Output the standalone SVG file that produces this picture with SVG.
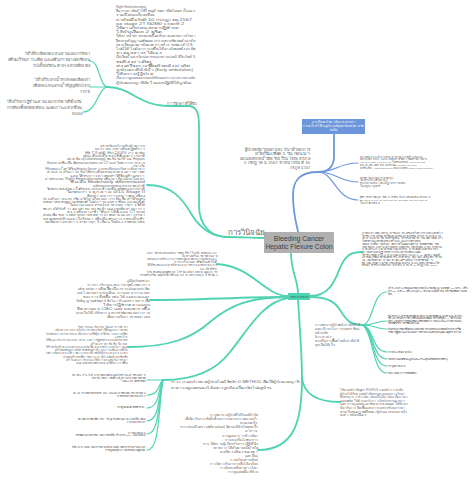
<svg xmlns="http://www.w3.org/2000/svg" width="474" height="483" viewBox="0 0 474 483">
<style>
text{font-family:"Liberation Sans","Noto Sans",sans-serif;fill:#6a6a6a}
.e{text-anchor:end}
.m{text-anchor:middle}
.tl{fill:none;stroke:#4fd3b2;stroke-linecap:round}
.bl{fill:none;stroke:#6f97dc;stroke-linecap:round}
.w1{stroke-width:1.2}
.w2{stroke-width:1.8}
</style>
<rect width="474" height="483" fill="#ffffff"/>
<g id="connectors">
<path class="tl w2" d="M265,238 C250,238 240,237 228,237"/>
<path class="tl w2" d="M228,237 C210,237 199,225 199,205 L199,125 C199,112 196,106 188,106 L167,106 C140,106 130,87 108,87"/>
<path class="tl w1" d="M108,87 C99,87 100,61 90,61"/>
<path class="tl w1" d="M108,87 L90,87"/>
<path class="tl w1" d="M108,87 C98,87 97,112 83,112"/>
<path class="tl w2" d="M228,237 C212,237 200,228 192,215 C182,198 172,185 147,185"/>
<path class="tl w2" d="M291,253 C291,272 298,280 298,293"/>
<path class="tl w2" d="M288,296 C265,296 252,266 217,264"/>
<path class="tl w2" d="M288,297 C240,297 200,300 150,300"/>
<path class="tl w2" d="M288,297 C250,297 230,305 210,322 C192,338 170,347 128,347"/>
<path class="tl w2" d="M288,298 C262,302 248,330 230,352 C215,372 190,380 163,380"/>
<path class="tl w1" d="M163,380 L147,380"/>
<path class="tl w1" d="M163,380 C158,384 160,395 147,395"/>
<path class="tl w1" d="M163,380 C158,388 160,408 147,408"/>
<path class="tl w1" d="M163,380 C158,395 160,421 147,421"/>
<path class="tl w1" d="M163,380 C158,400 160,434 147,434"/>
<path class="tl w1" d="M163,380 C158,410 160,450 147,450"/>
<path class="tl w2" d="M310,296 C330,296 335,280 340,268 C345,256 350,252 362,252"/>
<path class="tl w2" d="M310,297 C328,297 336,302 342,313 C348,322 352,325 363,325"/>
<path class="tl w1" d="M363,325 C374,322 372,292 387,292"/>
<path class="tl w1" d="M363,325 C375,325 375,321 387,321"/>
<path class="tl w1" d="M363,325 C375,325 375,329 387,329"/>
<path class="tl w1" d="M363,325 C374,328 372,352 387,352"/>
<path class="tl w1" d="M363,325 C374,330 372,359 387,359"/>
<path class="tl w1" d="M363,325 C374,332 372,366 387,366"/>
<path class="tl w1" d="M363,325 C374,334 372,373 387,373"/>
<path class="tl w2" d="M298,300 C300,330 302,355 302,380"/>
<path class="tl w2" d="M302,378 C304,395 318,402 340,402"/>
<path class="tl w2" d="M302,378 C302,420 295,450 258,450"/>
<path class="bl w2" d="M334,134 L334,156 C334,167 328,172 318,172"/>
<path class="bl w1" d="M318,172 C336,172 338,163 358,163"/>
<path class="bl w1" d="M318,172 C336,172 340,182 358,182"/>
<path class="bl w1" d="M318,172 C334,172 336,200 358,200"/>
<path class="bl w2" d="M318,172 C300,172 293,180 293,195 C293,215 297,225 298,232"/>
</g>
<g id="center">
<rect x="264" y="232" width="70" height="21" fill="#b0b0b0"/>
<text class="m" x="299" y="240.5" font-size="6.8" style="fill:#3f3f3f">Bleeding Cancer</text>
<text class="m" x="299" y="248.8" font-size="6.8" style="fill:#3f3f3f">Hepatic Flexure Colon</text>
</g>
<g id="problem">
<rect x="302" y="119" width="63" height="15" fill="#6c96dc"/>
<text class="m" font-size="3.1" style="fill:#ffffff"><tspan x="333.5" y="123.2" textLength="44" lengthAdjust="spacingAndGlyphs">ภาวะเลือดออกในทางเดินอาหารส่วนล่าง</tspan><tspan x="333.5" y="127.2" textLength="61" lengthAdjust="spacingAndGlyphs">จากมะเร็งลำไส้ใหญ่บริเวณ Hepatic flexure มีภาวะซีด</tspan><tspan x="333.5" y="131.2" textLength="8" lengthAdjust="spacingAndGlyphs">เสียเลือด</tspan></text>
</g>
<g id="patient">
<text class="e" font-size="3.8"><tspan x="310" y="151" textLength="65" lengthAdjust="spacingAndGlyphs">ผู้ป่วยหญิงไทยอายุ 81 ปี มาด้วยอาการ</tspan><tspan x="310" y="155.4" textLength="55" lengthAdjust="spacingAndGlyphs">ถ่ายเป็นเลือด 1 วันก่อนมา</tspan><tspan x="310" y="159.8" textLength="70" lengthAdjust="spacingAndGlyphs">อ่อนเพลีย หน้ามืด รับไว้ในโรงพยาบาล</tspan><tspan x="310" y="164.2" textLength="66" lengthAdjust="spacingAndGlyphs">5 กรกฎาคม 2567 จำหน่ายวันที่ 16</tspan><tspan x="310" y="168.6" textLength="20" lengthAdjust="spacingAndGlyphs">กรกฎาคม 2567</tspan></text>
</g>
<g id="history-a">
<text font-size="2.5"><tspan x="360" y="157.5" textLength="63" lengthAdjust="spacingAndGlyphs">มีภาวะเลือดออกในทางเดินอาหารส่วนล่าง ถ่ายเป็นเลือดสด</tspan><tspan x="360" y="160.4" textLength="67" lengthAdjust="spacingAndGlyphs">มีลิ่มเลือดปน อ่อนเพลีย หน้ามืด เวียนศีรษะ ใจสั่น</tspan><tspan x="360" y="163.3" textLength="65" lengthAdjust="spacingAndGlyphs">Hb 7.9 g/dL Hct 24.6% ได้รับเลือด PRC 2 unit</tspan><tspan x="360" y="166.2" textLength="57" lengthAdjust="spacingAndGlyphs">ส่องกล้องพบก้อนบริเวณ Hepatic flexure</tspan><tspan x="360" y="169.1" textLength="73" lengthAdjust="spacingAndGlyphs">ผลชิ้นเนื้อ Adenocarcinoma วางแผนผ่าตัด Right Hemicolectomy</tspan></text>
</g>
<g id="history-b">
<text font-size="2.5"><tspan x="360" y="178.5" textLength="33" lengthAdjust="spacingAndGlyphs">ประวัติ โรคความดันโลหิตสูง</tspan><tspan x="360" y="181.4" textLength="27" lengthAdjust="spacingAndGlyphs">ไขมันในเลือดสูง</tspan><tspan x="360" y="184.3" textLength="45" lengthAdjust="spacingAndGlyphs">รับประทานยาต่อเนื่อง ปฏิเสธการแพ้ยา</tspan><tspan x="360" y="187.2" textLength="20" lengthAdjust="spacingAndGlyphs">ไม่สูบบุหรี่</tspan></text>
</g>
<g id="history-c">
<text font-size="2.5"><tspan x="360" y="198" textLength="70" lengthAdjust="spacingAndGlyphs">รู้สึกตัวดี เยื่อบุตาซีด คลำพบก้อนบริเวณท้องด้านขวา</tspan><tspan x="360" y="200.9" textLength="67" lengthAdjust="spacingAndGlyphs">BT 37.2 C PR 98 /min RR 20 /min BP 110/70 mmHg</tspan><tspan x="360" y="203.8" textLength="20" lengthAdjust="spacingAndGlyphs">ไม่ปวดท้อง</tspan></text>
</g>
<g id="diagnosis-label">
<text x="228" y="235" font-size="8" style="fill:#707070">การวินิจฉัย</text>
</g>
<g id="diagnosis">
<text class="e" font-size="2.9"><tspan x="145" y="147" textLength="45" lengthAdjust="spacingAndGlyphs">คลำพบก้อนบริเวณท้องด้านขวาบน</tspan><tspan x="145" y="150.3" textLength="50" lengthAdjust="spacingAndGlyphs">ผลการตรวจทางห้องปฏิบัติการ</tspan><tspan x="145" y="153.6" textLength="60" lengthAdjust="spacingAndGlyphs">Hb 7.9 g/dL Hct 24.6% ภาวะซีด</tspan><tspan x="145" y="156.9" textLength="62" lengthAdjust="spacingAndGlyphs">เสียเลือดเรื้อรัง CEA สูงกว่าปกติ</tspan><tspan x="145" y="160.2" textLength="78" lengthAdjust="spacingAndGlyphs">ส่องกล้อง (Colonoscopy) พบก้อนบริเวณ Hepatic</tspan><tspan x="145" y="163.5" textLength="98" lengthAdjust="spacingAndGlyphs">flexure ผลชิ้นเนื้อ Adenocarcinoma ผล CT scan ไม่พบการกระจาย</tspan><tspan x="145" y="166.8" textLength="12" lengthAdjust="spacingAndGlyphs">อวัยวะอื่น</tspan><tspan x="145" y="170.1" textLength="100" lengthAdjust="spacingAndGlyphs">วินิจฉัยมะเร็งลำไส้ใหญ่ Hepatic flexure ร่วมกับเลือดออกในทางเดินอาหาร</tspan><tspan x="145" y="173.4" textLength="98" lengthAdjust="spacingAndGlyphs">ส่วนล่าง เกิดภาวะซีด ได้รับเลือดทดแทนก่อนการผ่าตัด</tspan><tspan x="145" y="176.7" textLength="75" lengthAdjust="spacingAndGlyphs">และได้รับการผ่าตัดลำไส้ใหญ่ด้านขวา</tspan><tspan x="145" y="180" textLength="100" lengthAdjust="spacingAndGlyphs">ผ่าตัดแบบ Right Hemicolectomy เพื่อเอาก้อนมะเร็งออก</tspan><tspan x="145" y="183.3" textLength="75" lengthAdjust="spacingAndGlyphs">ชิ้นเนื้อ Moderately differentiated</tspan><tspan x="145" y="186.6" textLength="52" lengthAdjust="spacingAndGlyphs">adenocarcinoma ขอบเขตปกติ</tspan><tspan x="145" y="189.9" textLength="98" lengthAdjust="spacingAndGlyphs">ไม่พบเซลล์มะเร็งที่ขอบ ต่อมน้ำเหลืองที่ตัดออกปกติ</tspan><tspan x="145" y="193.2" textLength="78" lengthAdjust="spacingAndGlyphs">ไม่พบการลุกลาม 0/15 Stage II</tspan><tspan x="145" y="196.5" textLength="58" lengthAdjust="spacingAndGlyphs">ติดตามอาการอย่างต่อเนื่อง</tspan><tspan x="145" y="199.8" textLength="102" lengthAdjust="spacingAndGlyphs">ประเมินภาวะแทรกซ้อน ได้แก่ เลือดออก การติดเชื้อ ลำไส้อุดตัน</tspan><tspan x="145" y="203.1" textLength="102" lengthAdjust="spacingAndGlyphs">หลังผ่าตัดสัญญาณชีพคงที่ ไม่มีภาวะแทรกซ้อน แผลแห้งดี</tspan><tspan x="145" y="206.4" textLength="75" lengthAdjust="spacingAndGlyphs">ไม่บวมแดง รับประทานอาหารได้ดี</tspan><tspan x="145" y="209.7" textLength="102" lengthAdjust="spacingAndGlyphs">ขับถ่ายได้ปกติ วางแผนจำหน่ายกลับบ้านและนัดติดตามอาการ</tspan><tspan x="145" y="213" textLength="78" lengthAdjust="spacingAndGlyphs">ตรวจติดตามซ้ำ ได้แก่ CEA และ CT scan</tspan><tspan x="145" y="216.3" textLength="102" lengthAdjust="spacingAndGlyphs">ส่งต่อเพื่อรับยาเคมีบำบัดภายหลังการผ่าตัดตามแผนการรักษา</tspan><tspan x="145" y="219.6" textLength="102" lengthAdjust="spacingAndGlyphs">ของแพทย์ด้านมะเร็งวิทยา เพื่อป้องกันการกลับเป็นซ้ำ</tspan><tspan x="145" y="222.9" textLength="100" lengthAdjust="spacingAndGlyphs">นัดติดตามผลการรักษาทุก 3 เดือน ในปีแรกหลังผ่าตัด</tspan></text>
</g>
<g id="treatment-label">
<text x="167" y="104.8" font-size="4.5" textLength="30" lengthAdjust="spacingAndGlyphs">การรักษาที่ได้รับ</text>
</g>
<g id="surgery">
<text font-size="3.5"><tspan x="116" y="8" textLength="30" lengthAdjust="spacingAndGlyphs">Right Hemicolectomy</tspan><tspan x="116" y="12.2" textLength="79" lengthAdjust="spacingAndGlyphs">คือการผ่าตัดลำไส้ใหญ่ด้านขวาที่มีก้อนมะเร็งออก</tspan><tspan x="116" y="16.4" textLength="39" lengthAdjust="spacingAndGlyphs">รวมถึงต่อมน้ำเหลือง</tspan><tspan x="116" y="20.6" textLength="76" lengthAdjust="spacingAndGlyphs">ผ่าตัดเมื่อวันที่ 10 กรกฎาคม 2567</tspan><tspan x="116" y="24.8" textLength="68" lengthAdjust="spacingAndGlyphs">ผล stage 2T N0M0 ระยะที่ 2</tspan><tspan x="116" y="29" textLength="63" lengthAdjust="spacingAndGlyphs">ให้ยาแก้ปวดและยาปฏิชีวนะ</tspan><tspan x="116" y="33.2" textLength="46" lengthAdjust="spacingAndGlyphs">ได้รับเลือด 2 ยูนิต</tspan><tspan x="116" y="37.4" textLength="79" lengthAdjust="spacingAndGlyphs">ให้สารน้ำทางหลอดเลือดดำตามแผนการรักษา</tspan><tspan x="116" y="41.6" textLength="79" lengthAdjust="spacingAndGlyphs">ติดตามสัญญาณชีพและภาวะแทรกซ้อนหลังผ่าตัด</tspan><tspan x="116" y="45.8" textLength="76" lengthAdjust="spacingAndGlyphs">ประเมินแผลผ่าตัดและการทำงานของลำไส้</tspan><tspan x="116" y="50" textLength="80" lengthAdjust="spacingAndGlyphs">ไม่มีไข้ ไม่มีอาการคลื่นไส้อาเจียนหลังผ่าตัด</tspan><tspan x="116" y="54.2" textLength="46" lengthAdjust="spacingAndGlyphs">ถ่ายอุจจาระได้เอง</tspan><tspan x="116" y="58.4" textLength="79" lengthAdjust="spacingAndGlyphs">เริ่มจิบน้ำและรับประทานอาหารอ่อนได้ในวันที่ 3</tspan><tspan x="116" y="62.6" textLength="35" lengthAdjust="spacingAndGlyphs">หลังผ่าตัด</tspan><tspan x="116" y="66.8" textLength="74" lengthAdjust="spacingAndGlyphs">ส่งเสริมการฟื้นตัวหลังผ่าตัด</tspan><tspan x="116" y="71" textLength="77" lengthAdjust="spacingAndGlyphs">ลุกนั่งและเดินได้เร็ว (Early ambulation)</tspan><tspan x="116" y="75.2" textLength="37" lengthAdjust="spacingAndGlyphs">ให้ความรู้ผู้ป่วย</tspan><tspan x="116" y="79.4" textLength="79" lengthAdjust="spacingAndGlyphs">เรื่องการดูแลตนเองก่อนกลับบ้านและการมาตรวจตามนัด</tspan><tspan x="116" y="83.6" textLength="76" lengthAdjust="spacingAndGlyphs">ผู้ป่วยและญาติเข้าใจและปฏิบัติได้ถูกต้อง</tspan></text>
</g>
<g id="treat-1">
<text class="e" font-size="4"><tspan x="90" y="55" textLength="65" lengthAdjust="spacingAndGlyphs">ให้ได้รับเลือดทดแทนตามแผนการรักษา</tspan><tspan x="90" y="61" textLength="82" lengthAdjust="spacingAndGlyphs">เพื่อแก้ไขภาวะซีดและเพิ่มการนำออกซิเจน</tspan><tspan x="90" y="67" textLength="57" lengthAdjust="spacingAndGlyphs">ไปเลี้ยงอวัยวะต่างๆ อย่างเพียงพอ</tspan></text>
</g>
<g id="treat-2">
<text class="e" font-size="4"><tspan x="90" y="81" textLength="55" lengthAdjust="spacingAndGlyphs">ให้ได้รับสารน้ำทางหลอดเลือดดำ</tspan><tspan x="90" y="87" textLength="57" lengthAdjust="spacingAndGlyphs">เพื่อทดแทนสารน้ำที่สูญเสียไปจาก</tspan><tspan x="90" y="93" textLength="10" lengthAdjust="spacingAndGlyphs">ร่างกาย</tspan></text>
</g>
<g id="treat-3">
<text class="e" font-size="4"><tspan x="82" y="103" textLength="75" lengthAdjust="spacingAndGlyphs">ให้ได้รับยาปฏิชีวนะตามแผนการรักษาเพื่อป้องกัน</tspan><tspan x="82" y="109" textLength="75" lengthAdjust="spacingAndGlyphs">การติดเชื้อหลังผ่าตัดและลดภาวะแทรกซ้อน</tspan><tspan x="82" y="115" textLength="10" lengthAdjust="spacingAndGlyphs">ของแผล</tspan></text>
</g>
<g id="nursing">
<rect x="288" y="293" width="22" height="7" rx="0.6" fill="#4fd3b2"/>
<text class="m" x="299" y="297.6" font-size="2.3" style="fill:#2e6e60" textLength="18" lengthAdjust="spacingAndGlyphs">ข้อวินิจฉัยทางการพยาบาล</text>
</g>
<g id="nd-1">
<text class="e" font-size="2.6"><tspan x="217" y="254" textLength="70" lengthAdjust="spacingAndGlyphs">ผลการตรวจเลือดพบภาวะซีด Hb 7.9 g/dL มีเลือดออก</tspan><tspan x="217" y="257.1" textLength="35" lengthAdjust="spacingAndGlyphs">ในทางเดินอาหารส่วนล่าง</tspan><tspan x="217" y="260.2" textLength="70" lengthAdjust="spacingAndGlyphs">เสี่ยงต่อภาวะช็อกจากการเสียเลือดเนื่องจากมีเลือดออก</tspan><tspan x="217" y="263.3" textLength="43" lengthAdjust="spacingAndGlyphs">จากก้อนมะเร็งในลำไส้</tspan><tspan x="217" y="266.4" textLength="70" lengthAdjust="spacingAndGlyphs">ให้ได้รับเลือดและสารน้ำตามแผนการรักษาและติดตามอาการ</tspan><tspan x="217" y="269.5" textLength="17" lengthAdjust="spacingAndGlyphs">อย่างใกล้ชิด</tspan><tspan x="217" y="272.6" textLength="70" lengthAdjust="spacingAndGlyphs">ประเมินสัญญาณชีพทุก 1 ชั่วโมง สังเกตลักษณะอุจจาระ</tspan><tspan x="217" y="275.7" textLength="77" lengthAdjust="spacingAndGlyphs">บันทึกปริมาณสารน้ำเข้าออกจากร่างกายทุก 8 ชั่วโมง</tspan></text>
</g>
<g id="nd-2">
<text class="e" font-size="3.2"><tspan x="150" y="282" textLength="23" lengthAdjust="spacingAndGlyphs">ภูมิคุ้มกันบกพร่อง</tspan><tspan x="150" y="286" textLength="63" lengthAdjust="spacingAndGlyphs">จากการรักษาและภาวะทุพโภชนาการ</tspan><tspan x="150" y="290" textLength="72" lengthAdjust="spacingAndGlyphs">เสี่ยงต่อการติดเชื้อเนื่องจากมีแผลผ่าตัด</tspan><tspan x="150" y="294" textLength="73" lengthAdjust="spacingAndGlyphs">และใส่สายสวน ประเมินอาการและอาการแสดง</tspan><tspan x="150" y="298" textLength="67" lengthAdjust="spacingAndGlyphs">ของการติดเชื้อ เช่น ไข้ แผลบวมแดง</tspan><tspan x="150" y="302" textLength="74" lengthAdjust="spacingAndGlyphs">วัดสัญญาณชีพทุก 4 ชั่วโมง ทำแผลปราศจากเชื้อ</tspan><tspan x="150" y="306" textLength="47" lengthAdjust="spacingAndGlyphs">ให้ยาปฏิชีวนะตามแผน</tspan><tspan x="150" y="310" textLength="73" lengthAdjust="spacingAndGlyphs">ติดตามผล CBC และผลเพาะเชื้อ</tspan><tspan x="150" y="314" textLength="74" lengthAdjust="spacingAndGlyphs">ส่งเสริมให้ได้รับสารอาหารที่เพียงพอต่อร่างกาย</tspan><tspan x="150" y="318" textLength="43" lengthAdjust="spacingAndGlyphs">เพื่อส่งเสริมการหายของแผล</tspan></text>
</g>
<g id="nd-3">
<text class="e" font-size="2.7"><tspan x="128" y="328" textLength="50" lengthAdjust="spacingAndGlyphs">วิตกกังวลเกี่ยวกับโรคและการรักษา</tspan><tspan x="128" y="331.3" textLength="73" lengthAdjust="spacingAndGlyphs">เนื่องจากขาดความรู้เกี่ยวกับโรคมะเร็งลำไส้ใหญ่และการผ่าตัด</tspan><tspan x="128" y="334.6" textLength="82" lengthAdjust="spacingAndGlyphs">ประเมินความวิตกกังวล เปิดโอกาสให้ผู้ป่วยได้ระบายความรู้สึก</tspan><tspan x="128" y="337.9" textLength="13" lengthAdjust="spacingAndGlyphs">และซักถาม</tspan><tspan x="128" y="341.2" textLength="82" lengthAdjust="spacingAndGlyphs">ให้ข้อมูลเกี่ยวกับโรค แผนการรักษา และการปฏิบัติตัวก่อนและหลังผ่าตัด</tspan><tspan x="128" y="344.5" textLength="37" lengthAdjust="spacingAndGlyphs">ด้วยภาษาที่เข้าใจง่าย</tspan><tspan x="128" y="347.8" textLength="82" lengthAdjust="spacingAndGlyphs">ให้กำลังใจผู้ป่วยและครอบครัว ส่งเสริมให้ครอบครัวมีส่วนร่วมในการดูแล</tspan><tspan x="128" y="351.1" textLength="73" lengthAdjust="spacingAndGlyphs">สร้างสัมพันธภาพที่ดี รับฟังปัญหาด้วยความเห็นอกเห็นใจ</tspan><tspan x="128" y="354.4" textLength="82" lengthAdjust="spacingAndGlyphs">อธิบายขั้นตอนก่อนให้การพยาบาลทุกครั้ง เพื่อให้ผู้ป่วยคลายความกังวล</tspan><tspan x="128" y="357.7" textLength="65" lengthAdjust="spacingAndGlyphs">ประเมินซ้ำหลังให้การพยาบาล ผู้ป่วยสีหน้าสดชื่นขึ้น</tspan><tspan x="128" y="361" textLength="62" lengthAdjust="spacingAndGlyphs">เข้าใจแผนการรักษาและให้ความร่วมมือในการรักษา</tspan><tspan x="128" y="364.3" textLength="52" lengthAdjust="spacingAndGlyphs">นอนหลับพักผ่อนได้มากขึ้น</tspan></text>
</g>
<g id="discharge-label">
<text font-size="3.6"><tspan x="171" y="382.5" textLength="128" lengthAdjust="spacingAndGlyphs">การวางแผนจำหน่ายผู้ป่วยโดยใช้หลัก D-METHOD เพื่อให้ผู้ป่วยและญาติ</tspan><tspan x="171" y="388.5" textLength="100" lengthAdjust="spacingAndGlyphs">สามารถดูแลตนเองได้อย่างถูกต้องเมื่อกลับไปอยู่บ้าน</tspan></text>
</g>
<g id="dc-1"><text class="e" font-size="2.3"><tspan x="145" y="376" textLength="73" lengthAdjust="spacingAndGlyphs">ประเมินภาวะโภชนาการอย่างต่อเนื่องและให้คำแนะนำเรื่องอาหาร</tspan><tspan x="145" y="378.8" textLength="53" lengthAdjust="spacingAndGlyphs">ที่มีประโยชน์ เพื่อฟื้นฟูสภาพร่างกายหลังผ่าตัด</tspan><tspan x="145" y="381.6" textLength="23" lengthAdjust="spacingAndGlyphs">และเคมีบำบัด</tspan></text></g>
<g id="dc-2"><text class="e" font-size="2.3"><tspan x="145" y="394" textLength="72" lengthAdjust="spacingAndGlyphs">แนะนำการออกกำลังกายที่เหมาะสมและการพักผ่อนให้เพียงพอ</tspan><tspan x="145" y="396.8" textLength="28" lengthAdjust="spacingAndGlyphs">หลีกเลี่ยงการยกของหนัก</tspan></text></g>
<g id="dc-3"><text class="e" x="145" y="408" font-size="2.3" textLength="28" lengthAdjust="spacingAndGlyphs">การดูแลแผลผ่าตัดที่บ้าน</text></g>
<g id="dc-4"><text class="e" font-size="2.3"><tspan x="145" y="420" textLength="67" lengthAdjust="spacingAndGlyphs">สังเกตอาการผิดปกติ เช่น ไข้สูง ปวดท้องรุนแรง ถ่ายเป็นเลือด</tspan><tspan x="145" y="422.8" textLength="18" lengthAdjust="spacingAndGlyphs">มาพบแพทย์ทันที</tspan></text></g>
<g id="dc-5"><text class="e" font-size="2.3"><tspan x="145" y="433.5" textLength="17" lengthAdjust="spacingAndGlyphs">มาตรวจตามนัด</tspan><tspan x="145" y="436.3" textLength="70" lengthAdjust="spacingAndGlyphs">เพื่อติดตามผลการรักษาและการกลับเป็นซ้ำ ตรวจ CEA และส่องกล้อง</tspan></text></g>
<g id="dc-6"><text class="e" font-size="2.3"><tspan x="145" y="448" textLength="73" lengthAdjust="spacingAndGlyphs">รับประทานยาตามแผนการรักษาต่อเนื่องและสังเกตอาการข้างเคียงของยา</tspan><tspan x="145" y="450.8" textLength="40" lengthAdjust="spacingAndGlyphs">การดูแลสุขภาพจิตของผู้ป่วย</tspan></text></g>
<g id="long-term">
<text class="e" font-size="3.3"><tspan x="258" y="416" textLength="48" lengthAdjust="spacingAndGlyphs">การพยาบาลผู้ป่วยที่ได้รับเคมีบำบัด</tspan><tspan x="258" y="420.1" textLength="73" lengthAdjust="spacingAndGlyphs">เพื่อป้องกันการกลับเป็นซ้ำและการแพร่กระจายของมะเร็ง</tspan><tspan x="258" y="424.2" textLength="18" lengthAdjust="spacingAndGlyphs">ครอบครัว</tspan><tspan x="258" y="428.3" textLength="78" lengthAdjust="spacingAndGlyphs">การประเมินความพร้อมก่อนให้ยาเคมีบำบัดทุกครั้ง</tspan><tspan x="258" y="432.4" textLength="13" lengthAdjust="spacingAndGlyphs">อาการ</tspan><tspan x="258" y="436.5" textLength="36" lengthAdjust="spacingAndGlyphs">การดูแลอาการข้างเคียง</tspan><tspan x="258" y="440.6" textLength="33" lengthAdjust="spacingAndGlyphs">การส่งเสริมโภชนาการ</tspan><tspan x="258" y="444.7" textLength="55" lengthAdjust="spacingAndGlyphs">การให้ความรู้เกี่ยวกับการปฏิบัติตัว</tspan><tspan x="258" y="448.8" textLength="45" lengthAdjust="spacingAndGlyphs">ระหว่างได้รับยาเคมีบำบัด</tspan><tspan x="258" y="452.9" textLength="38" lengthAdjust="spacingAndGlyphs">ผลข้างเคียงของยา</tspan><tspan x="258" y="457" textLength="13" lengthAdjust="spacingAndGlyphs">และอื่นๆ</tspan><tspan x="258" y="461.1" textLength="28" lengthAdjust="spacingAndGlyphs">การเตรียมความพร้อม</tspan><tspan x="258" y="465.2" textLength="48" lengthAdjust="spacingAndGlyphs">การจัดการกับอาการคลื่นไส้อาเจียน</tspan><tspan x="258" y="469.3" textLength="38" lengthAdjust="spacingAndGlyphs">การนัดหมายติดตามการรักษา</tspan><tspan x="258" y="473.4" textLength="30" lengthAdjust="spacingAndGlyphs">การดูแลต่อเนื่องที่บ้าน</tspan></text>
</g>
<g id="chemo">
<text font-size="3.2"><tspan x="340" y="391" textLength="63" lengthAdjust="spacingAndGlyphs">ให้ยาเคมีบำบัดสูตร FOLFOX ภายหลังการผ่าตัด</tspan><tspan x="340" y="394.6" textLength="65" lengthAdjust="spacingAndGlyphs">ผู้ป่วยได้รับยาเคมีบำบัดครบตามแผนการรักษา</tspan><tspan x="340" y="398.2" textLength="68" lengthAdjust="spacingAndGlyphs">ติดตามอาการข้างเคียง เช่น คลื่นไส้อาเจียน เบื่ออาหาร</tspan><tspan x="340" y="401.8" textLength="65" lengthAdjust="spacingAndGlyphs">อ่อนเพลีย ให้คำแนะนำการรับประทานอาหาร</tspan><tspan x="340" y="405.4" textLength="68" lengthAdjust="spacingAndGlyphs">และการดูแลตนเองที่เหมาะสมขณะได้รับยา</tspan><tspan x="340" y="409" textLength="65" lengthAdjust="spacingAndGlyphs">ป้องกันการติดเชื้อและภาวะแทรกซ้อนจากยา</tspan><tspan x="340" y="412.6" textLength="67" lengthAdjust="spacingAndGlyphs">ส่งเสริมคุณภาพชีวิตของผู้ป่วยและครอบครัว</tspan><tspan x="340" y="416.2" textLength="27" lengthAdjust="spacingAndGlyphs">อย่างต่อเนื่อง</tspan></text>
</g>
<g id="pre-op">
<text font-size="2.4"><tspan x="362" y="234" textLength="80" lengthAdjust="spacingAndGlyphs">การพยาบาลก่อนผ่าตัด เตรียมความพร้อมทั้งด้านร่างกายและจิตใจ</tspan><tspan x="362" y="236.7" textLength="78" lengthAdjust="spacingAndGlyphs">ได้รับการเตรียมลำไส้ก่อนผ่าตัดด้วยการรับประทานยาระบาย</tspan><tspan x="362" y="239.4" textLength="80" lengthAdjust="spacingAndGlyphs">งดน้ำงดอาหารหลังเที่ยงคืน ได้รับสารน้ำทางหลอดเลือดดำ</tspan><tspan x="362" y="242.1" textLength="60" lengthAdjust="spacingAndGlyphs">ให้ข้อมูลเกี่ยวกับขั้นตอนการผ่าตัด</tspan><tspan x="362" y="244.8" textLength="78" lengthAdjust="spacingAndGlyphs">สอนการหายใจและการไออย่างมีประสิทธิภาพ</tspan><tspan x="362" y="247.5" textLength="80" lengthAdjust="spacingAndGlyphs">การพลิกตะแคงตัวและการลุกเดินหลังผ่าตัด เพื่อป้องกันภาวะแทรกซ้อน</tspan><tspan x="362" y="250.2" textLength="75" lengthAdjust="spacingAndGlyphs">ประเมินความพร้อมก่อนผ่าตัด ตรวจสอบผลการตรวจ</tspan><tspan x="362" y="252.9" textLength="60" lengthAdjust="spacingAndGlyphs">ทางห้องปฏิบัติการและใบยินยอม</tspan><tspan x="362" y="255.6" textLength="78" lengthAdjust="spacingAndGlyphs">ได้รับเลือดทดแทนก่อนผ่าตัดจนค่า Hb อยู่ในเกณฑ์</tspan><tspan x="362" y="258.3" textLength="80" lengthAdjust="spacingAndGlyphs">เตรียมเลือดสำรองสำหรับการผ่าตัด ผู้ป่วยและญาติเข้าใจ</tspan><tspan x="362" y="261" textLength="70" lengthAdjust="spacingAndGlyphs">และให้ความร่วมมือในการรักษา</tspan><tspan x="362" y="263.7" textLength="78" lengthAdjust="spacingAndGlyphs">ผู้ป่วยคลายความวิตกกังวลก่อนผ่าตัด นอนหลับพักผ่อนได้</tspan><tspan x="362" y="266.4" textLength="75" lengthAdjust="spacingAndGlyphs">พร้อมเข้ารับการผ่าตัดตามกำหนด วันที่ 10 กรกฎาคม 2567</tspan></text>
</g>
<g id="post-op-label">
<text font-size="3.3"><tspan x="315" y="325.5" textLength="45" lengthAdjust="spacingAndGlyphs">การพยาบาลผู้ป่วยหลังผ่าตัดลำไส้</tspan><tspan x="315" y="329.5" textLength="44" lengthAdjust="spacingAndGlyphs">และเฝ้าระวังภาวะแทรกซ้อน</tspan><tspan x="315" y="333.5" textLength="13" lengthAdjust="spacingAndGlyphs">หลังผ่าตัด</tspan><tspan x="315" y="337.5" textLength="16" lengthAdjust="spacingAndGlyphs">จัดการความปวด</tspan><tspan x="315" y="341.5" textLength="44" lengthAdjust="spacingAndGlyphs">ส่งเสริมการฟื้นตัวหลังผ่าตัดให้</tspan><tspan x="315" y="345.5" textLength="20" lengthAdjust="spacingAndGlyphs">ลุกเดินได้เร็ว</tspan></text>
</g>
<g id="po-1"><text font-size="2.2"><tspan x="388" y="289" textLength="79" lengthAdjust="spacingAndGlyphs">เฝ้าระวังภาวะเลือดออกหลังผ่าตัด ประเมินสัญญาณชีพทุก 15 นาที 4 ครั้ง</tspan><tspan x="388" y="291.8" textLength="79" lengthAdjust="spacingAndGlyphs">ทุก 30 นาที 2 ครั้ง และทุก 1 ชั่วโมงจนคงที่ สังเกตเลือดซึมจากแผล</tspan><tspan x="388" y="294.6" textLength="3" lengthAdjust="spacingAndGlyphs">ดี</tspan></text></g>
<g id="po-2"><text font-size="2.2"><tspan x="388" y="316.5" textLength="73" lengthAdjust="spacingAndGlyphs">ป้องกันภาวะลำไส้อุดตันหลังผ่าตัด กระตุ้นให้พลิกตะแคงตัวและลุกเดิน</tspan><tspan x="388" y="319.1" textLength="73" lengthAdjust="spacingAndGlyphs">ฟังเสียงการเคลื่อนไหวของลำไส้ทุก 4 ชั่วโมง</tspan><tspan x="388" y="321.7" textLength="73" lengthAdjust="spacingAndGlyphs">สังเกตอาการท้องอืด คลื่นไส้อาเจียน และการผายลม</tspan><tspan x="388" y="324.3" textLength="30" lengthAdjust="spacingAndGlyphs">บันทึกการขับถ่าย</tspan></text></g>
<g id="po-3"><text font-size="2.2"><tspan x="388" y="330" textLength="73" lengthAdjust="spacingAndGlyphs">ป้องกันการติดเชื้อของแผลผ่าตัด ทำแผลด้วยเทคนิคปราศจากเชื้อ</tspan><tspan x="388" y="332.6" textLength="73" lengthAdjust="spacingAndGlyphs">ให้ยาปฏิชีวนะตามแผนการรักษาและติดตามอุณหภูมิร่างกาย</tspan></text></g>
<g id="po-4"><text x="388" y="353" font-size="2.2" textLength="23" lengthAdjust="spacingAndGlyphs">การประเมินความปวด</text></g>
<g id="po-5"><text x="388" y="360" font-size="2.2" textLength="60" lengthAdjust="spacingAndGlyphs">จัดท่านอนศีรษะสูงและกระตุ้นให้หายใจลึกๆ</text></g>
<g id="po-6"><text x="388" y="367" font-size="2.2" textLength="17" lengthAdjust="spacingAndGlyphs">การดูแลสายระบาย</text></g>
<g id="po-7"><text x="388" y="374" font-size="2.2" textLength="28" lengthAdjust="spacingAndGlyphs">สังเกตอาการท้องอืด</text></g>
</svg>
